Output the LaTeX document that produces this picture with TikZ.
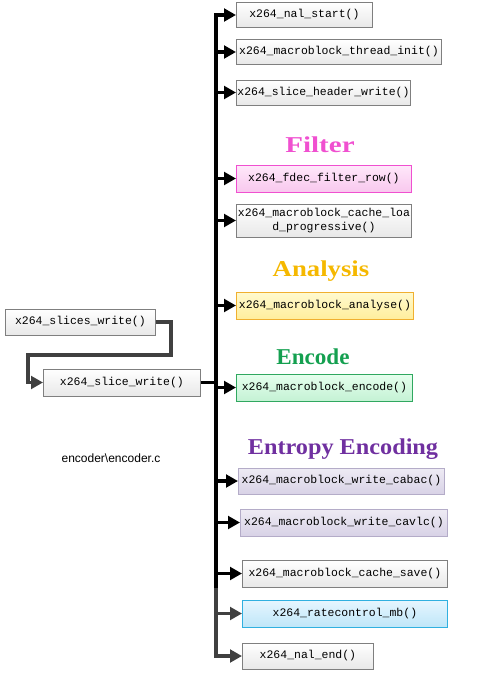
\documentclass[tikz,border=0pt]{standalone}
\usepackage{fontspec}
\setmonofont{Liberation Mono}
\setmainfont{Liberation Serif}
\setsansfont{Liberation Sans}
\usetikzlibrary{arrows.meta,calc}
\definecolor{trunkgray}{HTML}{404040}
\definecolor{boxline}{HTML}{7F7F7F}
\definecolor{filtc}{HTML}{F050D0}
\definecolor{analc}{HTML}{F5B800}
\definecolor{encc}{HTML}{14A050}
\definecolor{entc}{HTML}{7030A0}
\definecolor{filtfa}{HTML}{FFE8FA}
\definecolor{filtfb}{HTML}{F8C8EE}
\definecolor{analline}{HTML}{F0B030}
\definecolor{analfa}{HTML}{FFFAD0}
\definecolor{analfb}{HTML}{FFEE9C}
\definecolor{encline}{HTML}{30A860}
\definecolor{encfa}{HTML}{E6FFEE}
\definecolor{encfb}{HTML}{C4F2D4}
\definecolor{entline}{HTML}{B4ACC8}
\definecolor{entfa}{HTML}{EEEBF4}
\definecolor{entfb}{HTML}{D8D2E6}
\definecolor{rateline}{HTML}{30B0E0}
\definecolor{ratefa}{HTML}{E6F6FF}
\definecolor{ratefb}{HTML}{BFE6F8}
\tikzset{
  box/.style={draw=boxline, line width=0.6pt, top color=white, bottom color=black!9,
    inner sep=0pt, minimum height=25*0.75pt, font=\ttfamily\fontsize{8.6}{11}\selectfont, align=center, anchor=west},
  bw/.style={minimum width=#1*0.75pt},
  bh/.style={minimum height=#1*0.75pt},
  filtbox/.style={box, draw=filtc, top color=filtfa, bottom color=filtfb},
  analbox/.style={box, draw=analline, top color=analfa, bottom color=analfb},
  encbox/.style={box, draw=encline, top color=encfa, bottom color=encfb},
  entbox/.style={box, draw=entline, top color=entfa, bottom color=entfb},
  ratebox/.style={box, draw=rateline, top color=ratefa, bottom color=ratefb},
  title/.style={font=\rmfamily\bfseries\fontsize{17}{20}\selectfont, inner sep=0pt},
  arr/.style={line width=2.6pt, -{Triangle[length=9pt,width=9.5pt]}},
  garr/.style={arr, draw=trunkgray},
}
\begin{document}
\begin{tikzpicture}[x=0.75pt, y=-0.75pt]
\useasboundingbox (0,0) rectangle (487,674);
% right column
\node[box, bw=136] (nalstart) at (236,15) {x264\_nal\_start()};
\node[box, bw=205] (threadinit) at (236,52) {x264\_macroblock\_thread\_init()};
\node[box, bw=174] (sliceheader) at (236,92.5) {x264\_slice\_header\_write()};
\node[title, text=filtc] (tfilter) at (320,145) {\scalebox{1.28}[1]{Filter}};
\node[filtbox, bw=175, bh=27] (filterrow) at (236,178.5) {x264\_fdec\_filter\_row()};
\node[box, bw=175, bh=33] (cacheload) at (236,220.5) {x264\_macroblock\_cache\_loa\\d\_progressive()};
\node[title, text=analc] (tanal) at (321,271) {\scalebox{1.18}[1]{Analysis}};
\node[analbox, bw=177, bh=27] (analyse) at (236,305.5) {x264\_macroblock\_analyse()};
\node[title, text=encc] (tenc) at (313,357) {\scalebox{1.02}[1]{Encode}};
\node[encbox, bw=176, bh=27] (encode) at (236,387.5) {x264\_macroblock\_encode()};
\node[title, text=entc] (tent) at (343,449) {\scalebox{1.07}[1]{Entropy Encoding}};
\node[entbox, bw=206, bh=26] (cabac) at (238,481) {x264\_macroblock\_write\_cabac()};
\node[entbox, bw=207, bh=27] (cavlc) at (240,522.5) {x264\_macroblock\_write\_cavlc()};
\node[box, bw=205, bh=27] (cachesave) at (242,573.5) {x264\_macroblock\_cache\_save()};
\node[ratebox, bw=205, bh=27] (ratecontrol) at (242,613.5) {x264\_ratecontrol\_mb()};
\node[box, bw=131, bh=26] (nalend) at (242,656) {x264\_nal\_end()};
% left column
\node[box, bw=150, bh=26] (sliceswrite) at (5,322) {x264\_slices\_write()};
\node[box, bw=157, bh=27] (slicewrite) at (43,382.5) {x264\_slice\_write()};
\node[font=\sffamily\fontsize{9}{11}\selectfont, inner sep=0pt] (file) at (111,458) {encoder\textbackslash encoder.c};
% trunk
\coordinate (tr) at (216,0);
\coordinate (split) at (216,588);
\draw[arr, line join=miter] (split) |- (nalstart.west);
\draw[garr, line join=miter] (split) |- (nalend.west);
\foreach \n in {threadinit,sliceheader,filterrow,cacheload,analyse,encode,cabac,cavlc,cachesave}
  \draw[arr] (\n.west -| tr) -- (\n.west);
\draw[garr] (ratecontrol.west -| tr) -- (ratecontrol.west);
\draw[line width=2.6pt] (slicewrite.east) -- (slicewrite.east -| tr);
\draw[garr, line join=miter] (sliceswrite.east) -- ++(15,0) -- ++(0,33) -| ($(slicewrite.west)+(-15,0)$) -- (slicewrite.west);
\end{tikzpicture}
\end{document}
